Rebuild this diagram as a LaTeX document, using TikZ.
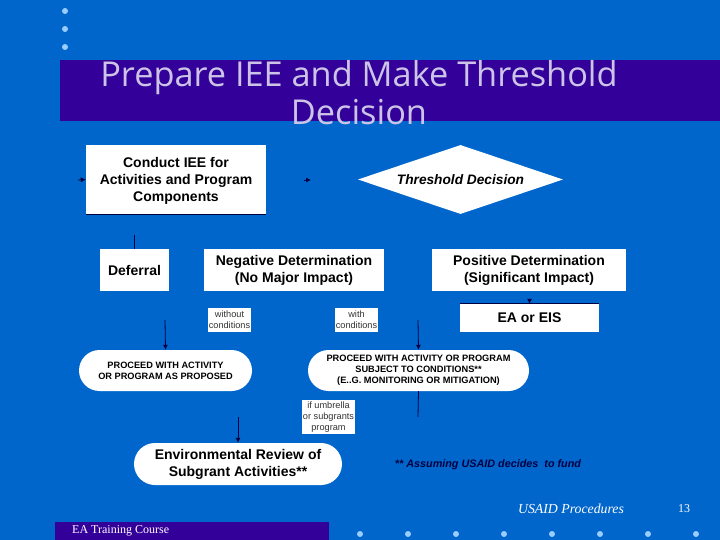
\documentclass[tikz,border=0pt]{standalone}
\usepackage{fontspec}
\setmainfont{Liberation Sans}
\newfontfamily\serifx{Liberation Serif}
\newfontfamily\titlefont{Open Sans}
\usetikzlibrary{arrows.meta,shapes.geometric,shapes.misc}
\definecolor{bg}{HTML}{0066CC}
\definecolor{bar}{HTML}{330099}
\definecolor{dotc}{HTML}{99CCFF}
\definecolor{ttl}{HTML}{CCC4E6}
\definecolor{navy}{HTML}{000040}
\tikzset{
 box/.style={fill=white,inner sep=0pt,align=center,font=\bfseries\fontsize{14}{17}\selectfont,text=black},
 tiny/.style={fill=white,inner sep=0pt,align=center,font=\fontsize{9.2}{11.3}\selectfont,text=black!80},
 pill/.style={rounded rectangle,fill=white,inner sep=0pt,align=center,text=black},
 conn/.style={draw=navy,line width=0.8pt},
 arr/.style={conn,-{Latex[length=5pt,width=5pt]}},
 dotm/.style={circle,fill=dotc,inner sep=0pt,minimum size=6pt},
}
\begin{document}
\begin{tikzpicture}[x=1pt,y=-1pt]
\useasboundingbox (0,0) rectangle (720,540);
\fill[bg] (0,0) rectangle (720,540);
\fill[bar] (60,60) rectangle (720,121);
\fill[bar] (55,522) rectangle (329,540);
\foreach \y in {11,29,47} \node[dotm] at (65,\y) {};
\foreach \x in {360,408,456,504,552,600,648,696} \node[dotm] at (\x,534) {};
\node[text=ttl,align=center,font=\titlefont\fontsize{34.3}{38}\selectfont] (title) at (359,92.5) {Prepare IEE and Make Threshold\\Decision};
\node[box,minimum width=180pt,minimum height=69pt] (conduct) at (176,179.5) {\rule{0pt}{13pt}Conduct IEE for\\Activities and Program\\Components};
\node[diamond,fill=white,inner sep=0pt,minimum width=205pt,minimum height=69pt,aspect=3,font=\bfseries\itshape\fontsize{13.7}{15}\selectfont,text=black] (decision) at (460.5,179.5) {Threshold Decision};
\node[box,minimum width=69pt,minimum height=42pt] (deferral) at (134.5,270) {Deferral};
\node[box,minimum width=180pt,minimum height=42pt] (neg) at (294,270) {Negative Determination\\(No Major Impact)};
\node[box,minimum width=194pt,minimum height=42pt] (pos) at (529,270) {Positive Determination\\(Significant Impact)};
\node[box,minimum width=139pt,minimum height=28pt] (ea) at (529.5,318) {EA or EIS};
\node[tiny,minimum width=43pt,minimum height=24pt] (without) at (229.5,320) {without\\conditions};
\node[tiny,minimum width=43pt,minimum height=24pt] (with) at (356.5,320) {with\\conditions};
\node[tiny,minimum width=53pt,minimum height=34pt] (umb) at (328.5,417) {if umbrella\\or subgrants\\program};
\node[pill,minimum width=173pt,minimum height=41pt,font=\fontsize{9.2}{11}\selectfont\bfseries] (go) at (165.5,370.5) {PROCEED WITH ACTIVITY\\OR PROGRAM AS PROPOSED};
\node[pill,minimum width=221pt,minimum height=41pt,font=\fontsize{9.25}{11}\selectfont\bfseries] (cond) at (418.5,370.5) {PROCEED WITH ACTIVITY OR PROGRAM\\SUBJECT TO CONDITIONS**\\(E..G. MONITORING OR MITIGATION)};
\node[pill,minimum width=208pt,minimum height=42pt,font=\bfseries\fontsize{14}{17}\selectfont] (env) at (238,464) {Environmental Review of\\Subgrant Activities**};
\node[text=navy,font=\bfseries\itshape\fontsize{10.8}{12}\selectfont] (note) at (488,464.5) {** Assuming USAID decides\ \ to fund};
\node[text=white,font=\serifx\itshape\fontsize{13.8}{16}\selectfont] (usaid) at (571,509) {USAID Procedures};
\node[text=white,font=\serifx\fontsize{12}{14}\selectfont] (num) at (684,509) {13};
\node[text=white,font=\serifx\fontsize{12}{14}\selectfont,anchor=west,inner sep=0pt] (course) at (72,531) {EA Training Course};
\coordinate (a1) at (78,180);
\coordinate (a2) at (304,180);
\coordinate (a2e) at (311,180);
\coordinate (a3) at (134.5,235);
\coordinate (a4) at (529.5,300);
\coordinate (a5) at (165,320);
\coordinate (a6) at (418,320);
\coordinate (a7) at (418,417);
\coordinate (a8) at (238,417);
\draw[arr] (a1) -- (conduct.west);
\draw[arr] (a2) -- (a2e);
\draw[conn] (a3) -- (deferral.north);
\draw[arr] (a4) -- (ea.north);
\draw[arr] (a5) -- (go.north);
\draw[arr] (a6) -- (cond.north);
\draw[conn] (cond.south) -- (a7);
\draw[arr] (a8) -- (env.north);
\draw[navy,line width=0.8pt] (conduct.south west) -- (conduct.south east);
\draw[navy,line width=0.8pt] (ea.north west) -- (ea.north east);
\end{tikzpicture}
\end{document}
